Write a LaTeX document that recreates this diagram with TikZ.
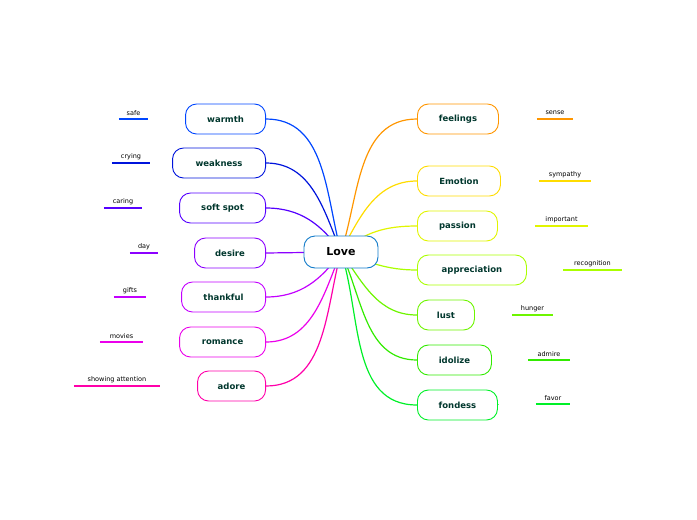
\documentclass[tikz,border=0pt]{standalone}
\usepackage{fontspec}
\setmainfont{DejaVu Sans}
\usetikzlibrary{backgrounds}
\definecolor{txt}{RGB}{0,55,45}
\tikzset{
	topic/.style = {draw=#1, line width=0.9pt, rounded corners=11pt, fill=white,
		minimum height=30pt, text=txt, font=\fontsize{8.5}{10}\selectfont\bfseries},
	leaf/.style = {minimum height=12pt, inner sep=0pt, anchor=south,
		font=\fontsize{6.5}{8}\selectfont},
	branch/.style = {draw=#1, line width=1.2pt},
	twig/.style = {draw=#1!60, line width=0.5pt},
	under/.style = {draw=#1, line width=1.6pt},
}
\newcommand{\sub}[7]{% name, colour, anchor, x, y, width, text
	\node[topic=#2, anchor=#3, minimum width=#6pt] (#1) at (#4,-#5) {#7};}
\newcommand{\leafat}[7]{% name, colour, parent, x, y, width, text
	\node[leaf, minimum width=#6pt] (#1) at (#4,-#5) {#7};
	\draw[under=#2] (#1.south west) -- (#1.south east);
	\begin{scope}[on background layer]
	\draw[twig=#2] (#3) -- (#1.south west -| #3) ;
	\end{scope}}
\begin{document}
\begin{tikzpicture}[x=1pt, y=1pt]
	\useasboundingbox (0,0) rectangle (697,-520);
	\definecolor{cwarm}{RGB}{0,70,255}
	\definecolor{cweak}{RGB}{0,20,220}
	\definecolor{csoft}{RGB}{85,0,255}
	\definecolor{cdes}{RGB}{140,0,255}
	\definecolor{cthank}{RGB}{195,0,255}
	\definecolor{crom}{RGB}{235,0,235}
	\definecolor{cadore}{RGB}{255,0,170}
	\definecolor{cfeel}{RGB}{255,150,0}
	\definecolor{cemo}{RGB}{255,220,0}
	\definecolor{cpass}{RGB}{225,245,0}
	\definecolor{cappr}{RGB}{170,255,0}
	\definecolor{clust}{RGB}{110,245,0}
	\definecolor{cidol}{RGB}{50,235,0}
	\definecolor{cfond}{RGB}{0,240,40}

	\node[topic=cyan!60!blue, text=black, minimum width=74pt, minimum height=32pt,
		font=\fontsize{11}{13}\selectfont\bfseries] (love) at (341,-252) {Love};

	% left side
	\sub{warmth}{cwarm}{east}{266}{119}{80}{warmth}
	\sub{weakness}{cweak}{east}{266}{163}{93}{weakness}
	\sub{softspot}{csoft}{east}{266}{208}{86}{soft spot}
	\sub{desire}{cdes}{east}{266}{253}{71}{desire}
	\sub{thankful}{cthank}{east}{266}{297}{84}{thankful}
	\sub{romance}{crom}{east}{266}{342}{86}{romance}
	\sub{adore}{cadore}{east}{266}{386}{68}{adore}
	% right side
	\sub{feelings}{cfeel}{west}{417}{119}{81}{feelings}
	\sub{emotion}{cemo}{west}{417}{181}{83}{Emotion}
	\sub{passion}{cpass}{west}{417}{226}{80}{passion}
	\sub{appreciation}{cappr}{west}{417}{270}{109}{appreciation}
	\sub{lust}{clust}{west}{417}{315}{57}{lust}
	\sub{idolize}{cidol}{west}{417}{360}{74}{idolize}
	\sub{fondess}{cfond}{west}{417}{405}{80}{fondess}

	\begin{scope}[on background layer]
	\draw[branch=cwarm] (love.center) to[out=105, in=0] (warmth.east);
	\draw[branch=cweak] (love.center) to[out=112, in=0] (weakness.east);
	\draw[branch=csoft] (love.center) to[out=125, in=0] (softspot.east);
	\draw[branch=cdes] (love.center) -- (desire.east);
	\draw[branch=cthank] (love.center) to[out=235, in=0] (thankful.east);
	\draw[branch=crom] (love.center) to[out=248, in=0] (romance.east);
	\draw[branch=cadore] (love.center) to[out=255, in=0] (adore.east);
	\draw[branch=cfeel] (love.center) to[out=72, in=180] (feelings.west);
	\draw[branch=cemo] (love.center) to[out=62, in=180] (emotion.west);
	\draw[branch=cpass] (love.center) to[out=40, in=180] (passion.west);
	\draw[branch=cappr] (love.center) to[out=-20, in=180] (appreciation.west);
	\draw[branch=clust] (love.center) to[out=-55, in=180] (lust.west);
	\draw[branch=cidol] (love.center) to[out=-65, in=180] (idolize.west);
	\draw[branch=cfond] (love.center) to[out=-72, in=180] (fondess.west);
	\end{scope}

	% leaves
	\leafat{safe}{cwarm}{warmth.west}{133.5}{119}{29}{safe}
	\leafat{crying}{cweak}{weakness.west}{131}{163}{38}{crying}
	\leafat{caring}{csoft}{softspot.west}{123}{208}{38}{caring}
	\leafat{day}{cdes}{desire.west}{144}{253}{28}{day}
	\leafat{gifts}{cthank}{thankful.west}{130}{297}{32}{gifts}
	\leafat{movies}{crom}{romance.west}{121.5}{342}{43}{movies}
	\leafat{attention}{cadore}{adore.west}{117}{386}{86}{showing attention}
	\leafat{sense}{cfeel}{feelings.east}{555}{119}{36}{sense}
	\leafat{sympathy}{cemo}{emotion.east}{565}{181}{52}{sympathy}
	\leafat{important}{cpass}{passion.east}{561.5}{226}{53}{important}
	\leafat{recognition}{cappr}{appreciation.east}{592.5}{270}{59}{recognition}
	\leafat{hunger}{clust}{lust.east}{532.5}{315}{41}{hunger}
	\leafat{admire}{cidol}{idolize.east}{549}{360}{42}{admire}
	\leafat{favor}{cfond}{fondess.east}{553}{404}{34}{favor}
\end{tikzpicture}
\end{document}
